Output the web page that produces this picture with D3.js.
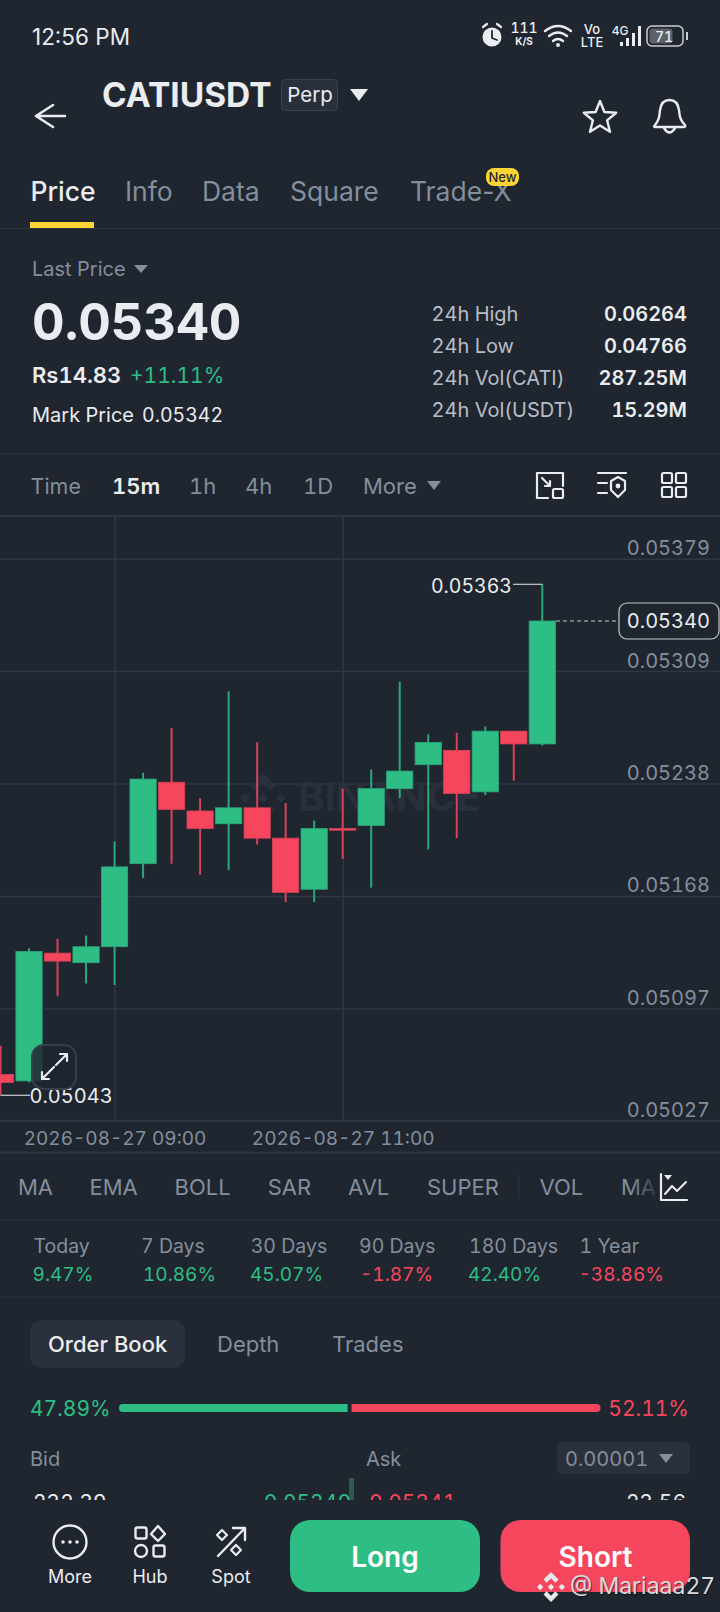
<!DOCTYPE html>
<html>
<head>
<meta charset="utf-8">
<script src="https://cdn.jsdelivr.net/npm/d3@7"></script>
<style>
  html, body { margin: 0; padding: 0; background: #1f2630; }
  svg { display: block; }
  text { font-family: Inter, "Open Sans", sans-serif; font-variant-numeric: tabular-nums; }
  text.plain { font-variant-numeric: normal; }
</style>
</head>
<body>
<div id="chart"></div>
<script>
// candles, 15m
var times = ["08:00","08:15","08:30","08:45","09:00","09:15","09:30","09:45","10:00","10:15",
             "10:30","10:45","11:00","11:15","11:30","11:45","12:00","12:15","12:30","12:45"];
var opens  = [0.05056,0.05052,0.05132,0.05126,0.05136,0.05188,0.05239,0.05221,0.05213,0.05223,
              0.05204,0.05172,0.05210,0.05212,0.05235,0.05250,0.05259,0.05233,0.05271,0.05263];
var closes = [0.05051,0.05133,0.05127,0.05136,0.05186,0.05241,0.05222,0.05210,0.05223,0.05204,
              0.05170,0.05210,0.05209,0.05235,0.05246,0.05264,0.05232,0.05271,0.05263,0.05340];
var highs  = [0.05074,0.05135,0.05141,0.05143,0.05202,0.05245,0.05273,0.05229,0.05296,0.05264,
              0.05226,0.05215,0.05235,0.05247,0.05302,0.05269,0.05270,0.05274,0.05271,0.05363];
var lows   = [0.05043,0.05051,0.05105,0.05113,0.05112,0.05179,0.05188,0.05181,0.05184,0.05200,
              0.05164,0.05164,0.05191,0.05173,0.05229,0.05197,0.05204,0.05231,0.05240,0.05262];
var priceTicks = [0.053790,0.053086,0.052382,0.051678,0.050974,0.050270];
var timeTicks = ["09:00","11:00"];
var lastPrice = 0.05340;
var maxPrice = 0.05363;
var minPrice = 0.05043;

var periodLabels = ["Today","7 Days","30 Days","90 Days","180 Days","1 Year"];
var periodValues = [9.47,10.86,45.07,-1.87,42.40,-38.86];
var indicators = ["MA","EMA","BOLL","SAR","AVL","SUPER","VOL","MA"];
var intervals = ["Time","15m","1h","4h","1D","More"];
var tabs = ["Price","Info","Data","Square","Trade-X"];
var bookTabs = ["Order Book","Depth","Trades"];
var statLabels = ["24h High","24h Low","24h Vol(CATI)","24h Vol(USDT)"];
var statValues = ["0.06264","0.04766","287.25M","15.29M"];
var bidShare = 47.89;
var askShare = 52.11;

var W = 720, H = 1612;
var BG = "#1f2630", GRID = "#303643", LINE = "#2f3541", GREY = "#848e9c", WHITE = "#eaecef";
var GREEN = "#2ebd85", RED = "#f6465d", YELLOW = "#fcd535";

var svg = d3.select("#chart").append("svg")
  .attr("width", W).attr("height", H)
  .attr("viewBox", "0 0 " + W + " " + H);

svg.append("rect").attr("width", W).attr("height", H).attr("fill", BG);

function label(str, x, y, size, fill, weight, anchor, parent) {
  return (parent || svg).append("text")
    .attr("x", x).attr("y", y)
    .attr("font-size", size)
    .attr("font-weight", weight || 400)
    .attr("text-anchor", anchor || "start")
    .attr("fill", fill)
    .text(str);
}

function hline(y, color, width) {
  svg.append("line").attr("x1", 0).attr("x2", W).attr("y1", y).attr("y2", y)
    .attr("stroke", color || LINE).attr("stroke-width", width || 1);
}

function stroked(d, color, width, parent) {
  return (parent || svg).append("path").attr("d", d).attr("fill", "none")
    .attr("stroke", color || WHITE).attr("stroke-width", width || 2.4)
    .attr("stroke-linecap", "round").attr("stroke-linejoin", "round");
}

function filled(d, color, parent) {
  return (parent || svg).append("path").attr("d", d).attr("fill", color);
}

function binanceLogo(cx, cy, s, color, parent) {
  var g = (parent || svg).append("g")
    .attr("transform", "translate(" + cx + "," + cy + ") scale(" + s + ")")
    .attr("fill", color);
  g.append("path").attr("d", "M0,-.21L.21,0L0,.21L-.21,0Z");
  g.append("path").attr("d", "M-.72,-.21L-.51,0L-.72,.21L-.93,0Z");
  g.append("path").attr("d", "M.72,-.21L.93,0L.72,.21L.51,0Z");
  g.append("path").attr("d", "M0,-1L.5,-.5L.29,-.29L0,-.58L-.29,-.29L-.5,-.5Z");
  g.append("path").attr("d", "M0,1L.5,.5L.29,.29L0,.58L-.29,.29L-.5,.5Z");
}

// ---------- status bar
label("12:56 PM", 32, 45, 22.5, WHITE, 400).attr("class", "plain");
svg.append("circle").attr("cx", 492).attr("cy", 37).attr("r", 9.5).attr("fill", WHITE);
stroked("M492,31V38L497,40", BG, 1.8);
stroked("M483,27L487,24M501,27L497,24", WHITE, 2.2);
label("111", 524, 33, 14, WHITE, 500, "middle");
label("K/S", 524, 45, 10, WHITE, 700, "middle");
stroked("M545,31Q558,21 571,31M549,36Q558,29 567,36M553,41Q558,37 563,41", WHITE, 2.4);
svg.append("circle").attr("cx", 558).attr("cy", 45).attr("r", 2).attr("fill", WHITE);
label("Vo", 592, 34, 13, WHITE, 500, "middle");
label("LTE", 592, 47, 13, WHITE, 500, "middle");
label("4G", 620, 35, 12, WHITE, 500, "middle");
[[620,4],[626,8],[632,13],[638,20]].forEach(function (b) {
  svg.append("rect").attr("x", b[0]).attr("y", 46 - b[1]).attr("width", 3)
    .attr("height", b[1]).attr("fill", WHITE);
});
svg.append("rect").attr("x", 647).attr("y", 26).attr("width", 36).attr("height", 20).attr("rx", 5)
  .attr("fill", "none").attr("stroke", "#c9ccd1").attr("stroke-width", 1.5);
svg.append("rect").attr("x", 649.5).attr("y", 28.5).attr("width", 23).attr("height", 15).attr("rx", 3)
  .attr("fill", "#5b6069");
svg.append("rect").attr("x", 686).attr("y", 32).attr("width", 2).attr("height", 8).attr("fill", "#c9ccd1");
label("71", 664, 41.5, 14, WHITE, 500, "middle");

// ---------- header
stroked("M53,105L36,116L53,127M36,116H65", WHITE, 2.6);
label("CATIUSDT", 102, 107, 33.5, WHITE, 700);
svg.append("rect").attr("x", 281.5).attr("y", 79.5).attr("width", 56).attr("height", 31).attr("rx", 4)
  .attr("fill", "#2a303b").attr("stroke", "#3c434f");
label("Perp", 310, 102, 20.5, WHITE, 400, "middle");
filled("M350,89H368L359,101Z", WHITE);
var star = d3.range(10).map(function (i) {
  var r = i % 2 ? 7.5 : 17, a = i * Math.PI / 5;
  return [600 + r * Math.sin(a), 118 - r * Math.cos(a)];
});
stroked(d3.line()(star) + "Z", WHITE, 2.4);
stroked("M655,125C661,118 659,114 660,110C661,103 665,100 669.5,100C674,100 678,103 679,110C680,114 678,118 685,125Q686,127 684,127H655Q653,127 655,125ZM664,128Q669.5,137 675,128", WHITE, 2.4);

// ---------- tabs
var tabX = [30.5, 125, 202, 290, 410];
tabs.forEach(function (t, i) {
  label(t, tabX[i], 200.5, 26.5, i === 0 ? WHITE : GREY, i === 0 ? 500 : 400).attr("class", "plain");
});
svg.append("rect").attr("x", 30).attr("y", 222).attr("width", 64).attr("height", 6).attr("fill", YELLOW);
hline(228.5);
svg.append("rect").attr("x", 486).attr("y", 168).attr("width", 33).attr("height", 18).attr("rx", 8).attr("fill", YELLOW);
label("New", 502.5, 182, 13, "#1f2630", 500, "middle");

// ---------- price block
label("Last Price", 32, 276, 20, GREY);
filled("M134,265H148L141,273Z", GREY);
label("0.05340", 32, 340, 50.5, WHITE, 700);
label("Rs14.83", 32, 383, 22, WHITE, 600);
label("+11.11%", 130, 383, 21, GREEN);
label("Mark Price", 32, 422, 20, WHITE);
label("0.05342", 142, 422, 19.5, WHITE);
var statY = [321, 353, 385, 417];
statLabels.forEach(function (t, i) {
  label(t, 431.5, statY[i], 20, "#b7bdc6");
  label(statValues[i], 687, statY[i], 20, WHITE, 600, "end");
});
hline(454);

// ---------- interval row
var intervalX = [30.5, 112, 189, 245, 303, 363];
intervals.forEach(function (t, i) {
  label(t, intervalX[i], 494, i === 0 ? 21.5 : 22, i === 1 ? WHITE : GREY, i === 1 ? 600 : 400);
});
filled("M427,481H441L434,490Z", GREY);
stroked("M563,486V473H537V498H548M542,478L550,486M550,481V486H545", WHITE, 2.2);
svg.append("rect").attr("x", 553).attr("y", 489).attr("width", 10).attr("height", 9).attr("rx", 1.5)
  .attr("fill", "none").attr("stroke", WHITE).attr("stroke-width", 2.2);
stroked("M598,473H626M598,483H607M598,493H607M618,477L625,481V490L618,497L611,490V481Z", WHITE, 2.2);
svg.append("circle").attr("cx", 618).attr("cy", 486).attr("r", 2.4).attr("fill", WHITE);
[[662,473],[676,473],[662,487],[676,487]].forEach(function (p) {
  svg.append("rect").attr("x", p[0]).attr("y", p[1]).attr("width", 10).attr("height", 10).attr("rx", 1.5)
    .attr("fill", "none").attr("stroke", WHITE).attr("stroke-width", 2.2);
});
hline(516, LINE, 2);

// ---------- chart
var parseTime = d3.timeParse("%Y-%m-%d %H:%M");
var dates = times.map(function (t) { return parseTime("2026-08-27 " + t); });

var x = d3.scaleTime().domain([dates[0], dates[dates.length - 1]]).range([0.5, 542.3]);
var y = d3.scaleLinear().domain([priceTicks[0], priceTicks[priceTicks.length - 1]]).range([558.7, 1120.8]);
var plotTop = 516, plotBottom = 1120.8;

var yAxis = d3.axisLeft(y).tickValues(priceTicks).tickSize(-W).tickFormat(d3.format(".5f"));
var yG = svg.append("g").attr("class", "y-axis").call(yAxis);
yG.select(".domain").remove();
yG.selectAll("line").attr("stroke", GRID).attr("stroke-width", 1.5);
yG.selectAll("text")
  .attr("x", 710).attr("dy", 0).attr("y", -4)
  .attr("text-anchor", "end")
  .attr("font-size", 20).attr("fill", GREY)
  .style("font-family", "Inter, sans-serif");

var xAxis = d3.axisBottom(x)
  .tickValues(timeTicks.map(function (t) { return parseTime("2026-08-27 " + t); }))
  .tickSize(-(plotBottom - plotTop))
  .tickFormat(d3.timeFormat("%Y-%m-%d %H:%M"));
var xG = svg.append("g").attr("class", "x-axis")
  .attr("transform", "translate(0," + plotBottom + ")").call(xAxis);
xG.select(".domain").remove();
xG.selectAll("line").attr("stroke", GRID).attr("stroke-width", 1.5);
xG.selectAll("text")
  .attr("y", 24).attr("dy", 0)
  .attr("font-size", 19).attr("fill", GREY)
  .style("font-family", "Inter, sans-serif");

hline(plotBottom, LINE, 2);
hline(1152.5, LINE, 2);

// logo behind candles
binanceLogo(263, 798, 25, "#2a303b");
label("BINANCE", 298, 811, 40, "#2a303b", 700);

var rows = dates.map(function (d, i) {
  return { date: d, open: opens[i], close: closes[i], high: highs[i], low: lows[i] };
});
var candleWidth = (x(dates[1]) - x(dates[0])) * 0.92;

var candles = svg.append("g").attr("class", "candles").selectAll("g").data(rows).enter().append("g");
function colorOf(d) { return d.close >= d.open ? GREEN : RED; }
function edgeOf(d) { return d.close >= d.open ? "#2aa87a" : "#d84258"; }

candles.append("line")
  .attr("x1", function (d) { return x(d.date); })
  .attr("x2", function (d) { return x(d.date); })
  .attr("y1", function (d) { return y(d.high); })
  .attr("y2", function (d) { return y(d.low); })
  .attr("stroke", edgeOf).attr("stroke-width", 2);
candles.append("rect")
  .attr("x", function (d) { return x(d.date) - candleWidth / 2; })
  .attr("width", candleWidth)
  .attr("y", function (d) { return y(Math.max(d.open, d.close)); })
  .attr("height", function (d) { return Math.max(1.5, Math.abs(y(d.open) - y(d.close))); })
  .attr("fill", colorOf).attr("stroke", edgeOf).attr("stroke-width", 0.8);

// high / low callouts
var fmt = d3.format(".5f");
var last = rows[rows.length - 1];
svg.append("path")
  .attr("d", "M513," + y(maxPrice) + "H" + x(last.date))
  .attr("stroke", WHITE).attr("stroke-width", 1).attr("fill", "none");
label(fmt(maxPrice), 512, y(maxPrice) + 9, 19.5, WHITE, 400, "end");
svg.append("path")
  .attr("d", "M" + x(dates[0]) + "," + y(minPrice) + "H30")
  .attr("stroke", WHITE).attr("stroke-width", 1).attr("fill", "none");
label(fmt(minPrice), 29.5, y(minPrice) + 8, 20, WHITE);

// last price tag
svg.append("line")
  .attr("x1", 556).attr("x2", 618).attr("y1", y(lastPrice)).attr("y2", y(lastPrice))
  .attr("stroke", "#c4c8ce").attr("stroke-width", 1).attr("stroke-dasharray", "4,3");
svg.append("rect").attr("x", 619).attr("y", 603).attr("width", 100).attr("height", 36).attr("rx", 8)
  .attr("fill", BG).attr("stroke", "#c4c8ce").attr("stroke-width", 1.2);
label(fmt(lastPrice), 710, 628, 20, WHITE, 400, "end");

// expand button
svg.append("rect").attr("x", 32).attr("y", 1045).attr("width", 44).attr("height", 44).attr("rx", 12)
  .attr("fill", "#1f2630").attr("fill-opacity", 0.85).attr("stroke", "#383e4a").attr("stroke-width", 2);
stroked("M42,1079L54,1067M42,1072V1079H49M67,1054L56,1065M60,1054H67V1061", WHITE, 2.2);

// ---------- indicators
var indicatorX = [18, 89.5, 174.5, 267.7, 348, 427, 539.5, 621];
indicators.forEach(function (t, i) {
  label(t, indicatorX[i], 1195, 22, GREY);
});
svg.append("line").attr("x1", 519).attr("x2", 519).attr("y1", 1175).attr("y2", 1199).attr("stroke", LINE);
var fade = svg.append("defs").append("linearGradient").attr("id", "fade");
fade.append("stop").attr("offset", 0).attr("stop-color", BG).attr("stop-opacity", 0);
fade.append("stop").attr("offset", 1).attr("stop-color", BG).attr("stop-opacity", 1);
svg.append("rect").attr("x", 630).attr("y", 1170).attr("width", 32).attr("height", 34).attr("fill", "url(#fade)");
stroked("M661,1174V1200H687", WHITE, 2.2);
stroked("M665,1194L672,1186L677,1191L686,1182", WHITE, 2);
filled("M664,1175H672L668,1180Z", WHITE);
hline(1220);

// ---------- period performance
var periodLabelX = [33.5, 141, 250.7, 359, 469, 579.5];
var periodValueX = [32.6, 143, 250, 360, 468, 578.5];
periodLabels.forEach(function (t, i) {
  label(t, periodLabelX[i], 1253, 19.5, GREY);
  label(periodValues[i].toFixed(2) + "%", periodValueX[i], 1281, 19,
    periodValues[i] < 0 ? RED : GREEN);
});
hline(1297);

// ---------- order book
svg.append("rect").attr("x", 30).attr("y", 1320).attr("width", 155).attr("height", 48).attr("rx", 12).attr("fill", "#2a303c");
var bookTabX = [48, 217, 332];
bookTabs.forEach(function (t, i) {
  label(t, bookTabX[i], 1352, 22, i === 0 ? WHITE : GREY, i === 0 ? 500 : 400);
});

var shareX = d3.scaleLinear().domain([0, bidShare + askShare]).range([119, 600.5]);
label(bidShare.toFixed(2) + "%", 30, 1416, 21, GREEN);
label(askShare.toFixed(2) + "%", 689, 1416, 21, RED, 400, "end");
svg.append("path")
  .attr("d", "M" + (shareX(bidShare) - 2) + ",1404H123A4,4 0 0 0 123,1412H" + (shareX(bidShare) - 2) + "Z")
  .attr("fill", GREEN);
svg.append("path")
  .attr("d", "M" + (shareX(bidShare) + 2) + ",1404H" + (shareX(100) - 4) + "A4,4 0 0 1 " + (shareX(100) - 4) + ",1412H" + (shareX(bidShare) + 2) + "Z")
  .attr("fill", RED);

label("Bid", 30, 1466, 20, GREY);
label("Ask", 366, 1466, 20, GREY);
svg.append("rect").attr("x", 557).attr("y", 1442).attr("width", 133).attr("height", 32).attr("rx", 5).attr("fill", "#2a303c");
label("0.00001", 565, 1466, 20, GREY);
filled("M659,1454H673L666,1463Z", GREY);

// first book row, cut off by the bottom bar
svg.append("rect").attr("x", 349).attr("y", 1478).attr("width", 5).attr("height", 24).attr("fill", "#2e5a4e");
label("232.39", 33, 1510, 21, WHITE);
label("0.05340", 351, 1510, 21, GREEN, 400, "end");
label("0.05341", 369, 1510, 21, RED);
label("23.56", 686, 1510, 21, WHITE, 400, "end");

// ---------- bottom bar
svg.append("rect").attr("x", 0).attr("y", 1500).attr("width", W).attr("height", H - 1500).attr("fill", BG);
svg.append("circle").attr("cx", 70).attr("cy", 1542).attr("r", 16.5)
  .attr("fill", "none").attr("stroke", WHITE).attr("stroke-width", 2.4);
[63, 70, 77].forEach(function (cx) {
  svg.append("circle").attr("cx", cx).attr("cy", 1542).attr("r", 1.8).attr("fill", WHITE);
});
svg.append("rect").attr("x", 135.5).attr("y", 1527.5).attr("width", 11).attr("height", 11).attr("rx", 2)
  .attr("fill", "none").attr("stroke", WHITE).attr("stroke-width", 2.4);
stroked("M158,1526L165,1534L158,1541L151,1534Z", WHITE, 2.4);
svg.append("circle").attr("cx", 141).attr("cy", 1551).attr("r", 6).attr("fill", "none").attr("stroke", WHITE).attr("stroke-width", 2.4);
svg.append("rect").attr("x", 153.5).attr("y", 1545.5).attr("width", 11).attr("height", 11).attr("rx", 2)
  .attr("fill", "none").attr("stroke", WHITE).attr("stroke-width", 2.4);
stroked("M218,1556L245,1528M233,1528H245V1540", WHITE, 2.4);
stroked("M222,1530L227,1535L222,1540L217,1535ZM236,1545L241,1550L236,1555L231,1550Z", WHITE, 2.2);
label("More", 70, 1583, 18, WHITE, 400, "middle");
label("Hub", 150, 1583, 18, WHITE, 400, "middle");
label("Spot", 231, 1583, 18, WHITE, 400, "middle");

svg.append("rect").attr("x", 290).attr("y", 1520).attr("width", 190).attr("height", 72).attr("rx", 20).attr("fill", GREEN);
svg.append("rect").attr("x", 500.5).attr("y", 1520).attr("width", 189.5).attr("height", 72).attr("rx", 20).attr("fill", RED);
label("Long", 385, 1567, 28, "#ffffff", 600, "middle");
label("Short", 595.5, 1567, 28, "#ffffff", 600, "middle");

// watermark
binanceLogo(551, 1587, 15, "#e8e8ea");
label("@ Mariaaa27", 571, 1595, 23, "#000000").attr("opacity", 0.45);
label("@ Mariaaa27", 570, 1594, 23, "#d9dade");
</script>
</body>
</html>
